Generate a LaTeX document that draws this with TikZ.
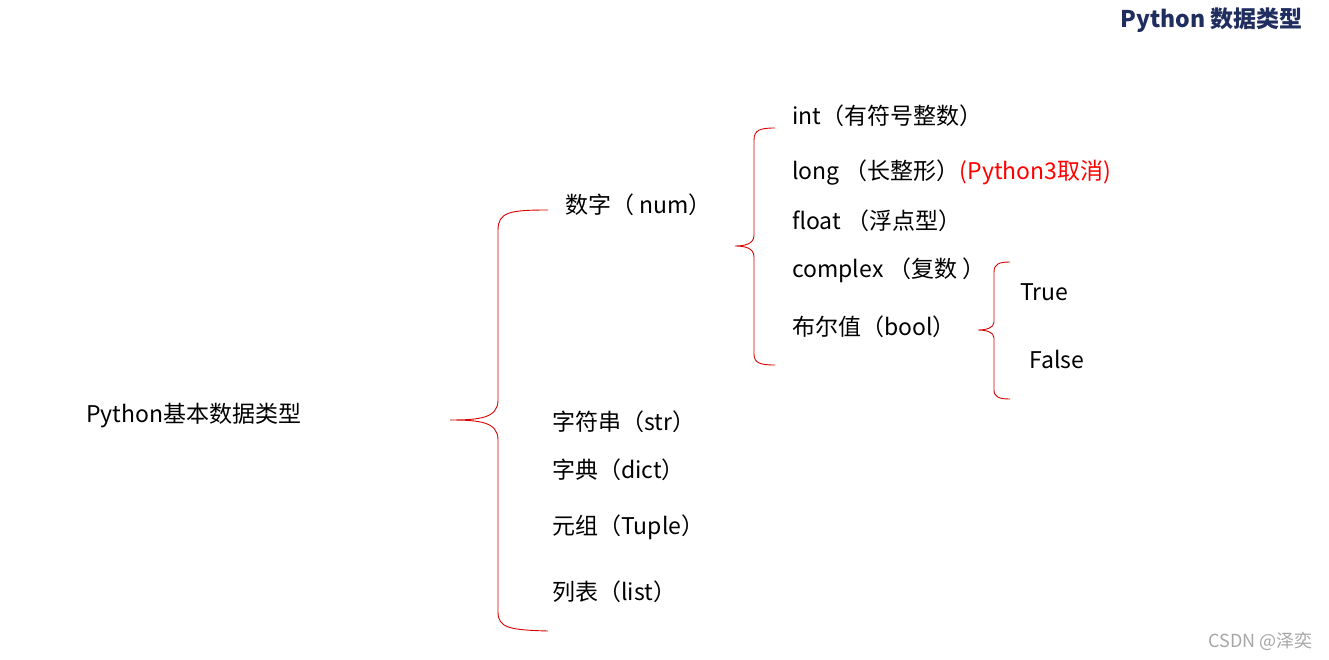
\documentclass[tikz,border=0pt]{standalone}
\usepackage{fontspec}
\setmainfont{Noto Sans CJK SC}
\begin{document}
\begin{tikzpicture}[x=1pt,y=-1pt,
  lbl/.style={anchor=west,inner sep=0pt,font=\fontsize{23}{26}\selectfont},
  br/.style={draw=red!85!black,line width=0.9pt}]
\useasboundingbox (0,0) rectangle (1329,660);
\node[anchor=east,inner sep=0pt,font=\fontsize{23}{26}\selectfont\bfseries,text={rgb,255:red,31;green,45;blue,95}] (title) at (1303,20) {Python 数据类型};
\node[lbl] (root) at (86,416) {Python基本数据类型};
\node[lbl] (num) at (565,205) {数字（ num）};
\node[lbl] (int) at (792,116) {int（有符号整数）};
\node[lbl] (long) at (792,173) {long （长整形）\textcolor{red}{(Python3取消)}};
\node[lbl] (float) at (792,221) {float （浮点型）};
\node[lbl] (cplx) at (792,270) {complex （复数 ）};
\node[lbl] (bool) at (792,327) {布尔值（bool）};
\node[lbl] (t) at (1020,292) {True};
\node[lbl] (f) at (1029,359) {False};
\node[lbl] (str) at (552,422) {字符串（str）};
\node[lbl] (dict) at (552,470) {字典（dict）};
\node[lbl] (tup) at (552,527) {元组（Tuple）};
\node[lbl] (lst) at (552,592) {列表（list）};
\node[anchor=east,inner sep=0pt,text=gray!70,font=\fontsize{18}{20}\selectfont] (wm) at (1313,641) {CSDN @泽奕};
% braces
\draw[br] (548,210) .. controls (510,210) and (498,212) .. (498,230) -- (498,400) .. controls (498,418) and (480,420) .. (450,420)
  .. controls (480,420) and (498,422) .. (498,440) -- (498,612) .. controls (498,628) and (510,630) .. (548,631);
\draw[br] (775,128) .. controls (760,128) and (754,130) .. (754,140) -- (754,235) .. controls (754,244) and (745,246) .. (735,246)
  .. controls (745,246) and (754,248) .. (754,257) -- (754,354) .. controls (754,363) and (760,365) .. (775,365);
\draw[br] (1010,262) .. controls (999,262) and (994,264) .. (994,272) -- (994,322) .. controls (994,328) and (986,330) .. (978,330)
  .. controls (986,330) and (994,332) .. (994,338) -- (994,390) .. controls (994,397) and (999,399) .. (1010,399);
\end{tikzpicture}
\end{document}
